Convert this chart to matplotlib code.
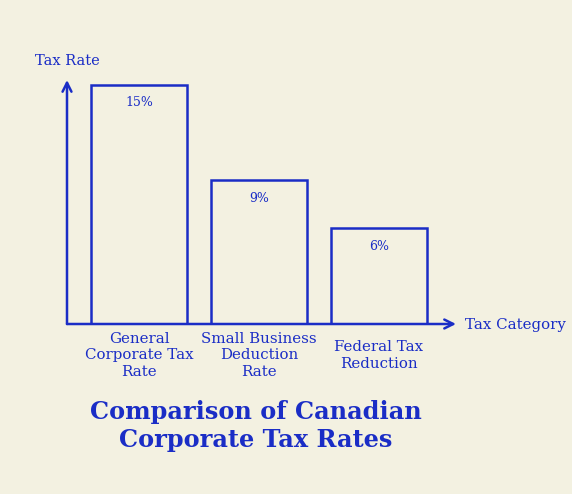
import matplotlib
matplotlib.use("Agg")
import matplotlib.pyplot as plt

categories = ["General\nCorporate Tax\nRate", "Small Business\nDeduction\nRate", "Federal Tax\nReduction"]
rates = [15, 9, 6]
rate_labels = ["15%", "9%", "6%"]

BG = "#F3F1E1"
BLUE = "#1A2DC6"
W, H = 572, 494

plt.rcParams["font.family"] = ["DejaVu Serif"]

fig = plt.figure(figsize=(W / 100, H / 100), dpi=100, facecolor=BG)
ax = fig.add_axes([67 / W, (H - 324) / H, (456 - 67) / W, (324 - 80) / H])
ax.set_facecolor(BG)

x = list(range(len(categories)))
ax.bar(x, rates, width=0.8, facecolor="none", edgecolor=BLUE, linewidth=1.8)
ax.set_xlim(-0.6, 2.642)
ax.set_ylim(0, 15.3)

for xi, val, lab in zip(x, rates, rate_labels):
    ax.annotate(lab, (xi, val), xytext=(0, -13), textcoords="offset points",
                ha="center", va="center", fontsize=9, color=BLUE)

for xi, cat in zip(x, categories):
    ax.annotate(cat, (xi, 0), xytext=(0, -22.5), textcoords="offset points",
                ha="center", va="center", fontsize=10.8, color=BLUE,
                linespacing=1.25, annotation_clip=False)

for s in ax.spines.values():
    s.set_visible(False)
ax.set_xticks([])
ax.set_yticks([])

# axis arrows
arrow = dict(arrowstyle="->", color=BLUE, lw=1.8, mutation_scale=16, shrinkA=0, shrinkB=0)
ax.annotate("", xy=(1, 0), xytext=(0, 0), xycoords="axes fraction", arrowprops=arrow)
ax.annotate("", xy=(0, 1), xytext=(0, 0), xycoords="axes fraction", arrowprops=arrow)

fig.text(35 / W, 1 - 61 / H, "Tax Rate", ha="left", va="center", fontsize=10.5, color=BLUE)
fig.text(465 / W, 1 - 325 / H, "Tax Category", ha="left", va="center", fontsize=10.8, color=BLUE)

fig.text(256 / W, 1 - 426 / H, "Comparison of Canadian\nCorporate Tax Rates",
         ha="center", va="center", fontsize=17.3, fontweight="bold", color=BLUE,
         linespacing=1.25)

fig.savefig("out.png", dpi=100, facecolor=BG)
